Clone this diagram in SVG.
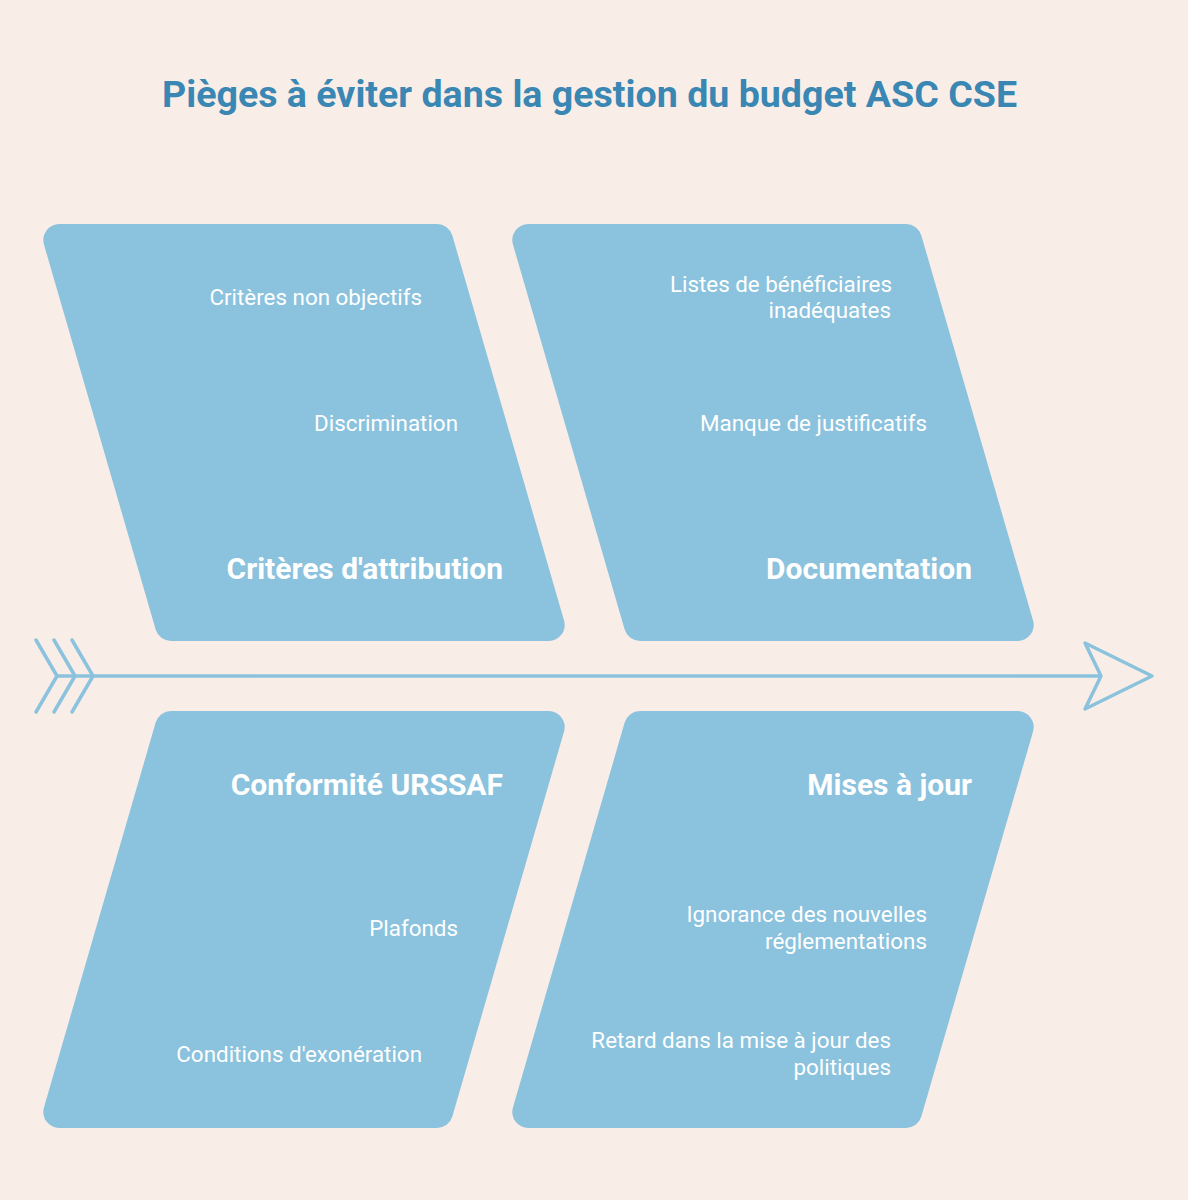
<svg xmlns="http://www.w3.org/2000/svg" xmlns:xlink="http://www.w3.org/1999/xlink" width="1188" height="1200" viewBox="0 0 1188 1200">
  <style>
    .bg { fill: #F9EEE7; }
    .shape { fill: #8BC2DD; }
    .title { font-family: Roboto, "Liberation Sans", sans-serif; font-weight: 700; font-size: 37.6px; fill: #3A87B4; }
    .head { font-family: Roboto, "Liberation Sans", sans-serif; font-weight: 700; font-size: 30px; fill: #FFFFFF; text-anchor: end; }
    .item { font-family: Roboto, "Liberation Sans", sans-serif; font-weight: 400; font-size: 22.4px; fill: #FFFFFF; text-anchor: end; }
    .spine { fill: none; stroke: #8BC2DD; stroke-width: 3.5; stroke-linecap: round; stroke-linejoin: round; }
  </style>
  <defs>
    <path id="para" d="M21.3,0 L399,0 A16,16 0 0 1 414.34,11.52 L526.06,396.54 A16,16 0 0 1 510.7,417 L133,417 A16,16 0 0 1 117.66,405.48 L5.94,20.46 A16,16 0 0 1 21.3,0 Z"/>
  </defs>
  <rect class="bg" x="0" y="0" width="1188" height="1200"/>
  <text class="title" x="589.5" y="106.5" text-anchor="middle">Pièges à éviter dans la gestion du budget ASC CSE</text>

  <g id="connectors">
    <line class="spine" x1="57" y1="676" x2="1100" y2="676"/>
    <polyline class="spine" points="36,640 57,676 36,712"/>
    <polyline class="spine" points="54,640 75,676 54,712"/>
    <polyline class="spine" points="72,640 93,676 72,712"/>
    <polygon class="spine" points="1085,643 1152,676 1085,709 1101,676"/>
  </g>

  <g id="criteres-attribution">
    <use xlink:href="#para" class="shape" transform="translate(38,224)"/>
    <text class="item" x="422" y="305">Critères non objectifs</text>
    <text class="item" x="458" y="431">Discrimination</text>
    <text class="head" x="503" y="579">Critères d'attribution</text>
  </g>

  <g id="documentation">
    <use xlink:href="#para" class="shape" transform="translate(507,224)"/>
    <text class="item" x="892" y="292">Listes de bénéficiaires</text>
    <text class="item" x="891" y="318">inadéquates</text>
    <text class="item" x="927" y="431">Manque de justificatifs</text>
    <text class="head" x="972" y="579">Documentation</text>
  </g>

  <g id="conformite-urssaf">
    <use xlink:href="#para" class="shape" transform="translate(38,1128) scale(1,-1)"/>
    <text class="head" x="503" y="795">Conformité URSSAF</text>
    <text class="item" x="458" y="936">Plafonds</text>
    <text class="item" x="422" y="1062">Conditions d'exonération</text>
  </g>

  <g id="mises-a-jour">
    <use xlink:href="#para" class="shape" transform="translate(507,1128) scale(1,-1)"/>
    <text class="head" x="972" y="795">Mises à jour</text>
    <text class="item" x="927" y="922">Ignorance des nouvelles</text>
    <text class="item" x="927" y="949">réglementations</text>
    <text class="item" x="891" y="1048">Retard dans la mise à jour des</text>
    <text class="item" x="891" y="1075">politiques</text>
  </g>
</svg>
